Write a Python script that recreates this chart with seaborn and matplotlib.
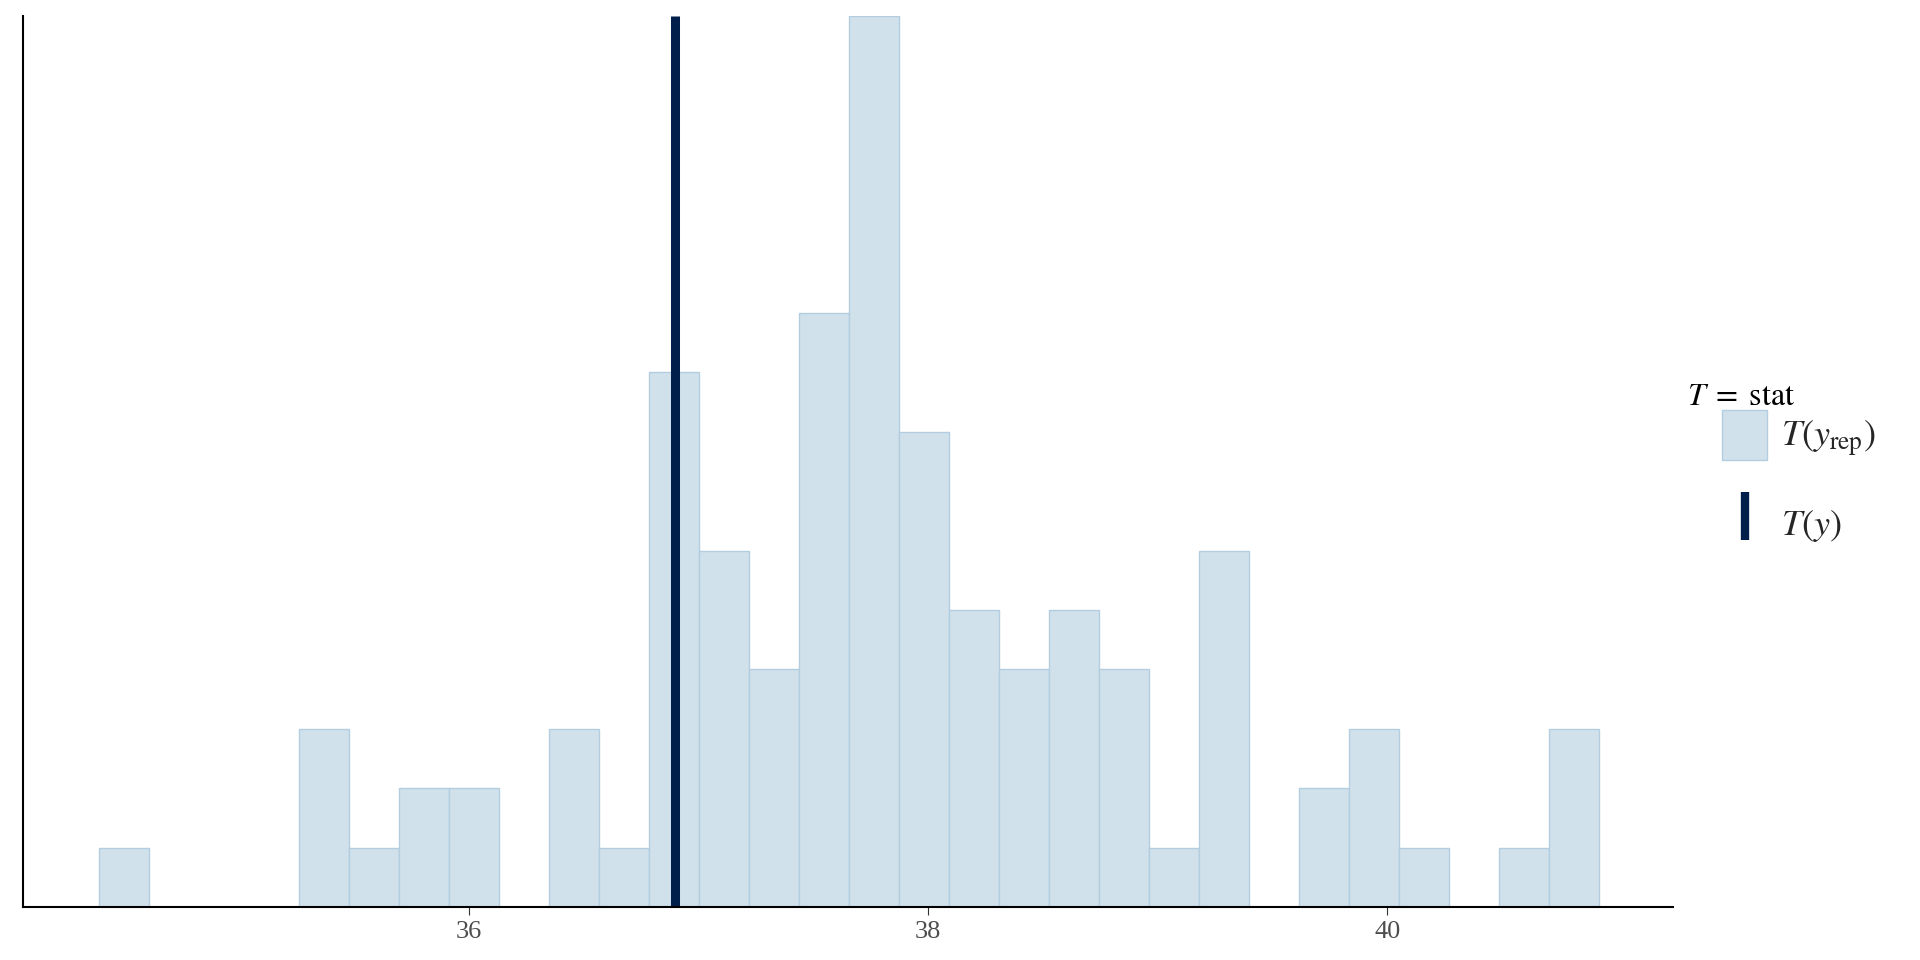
import numpy as np
import pandas as pd
import matplotlib
matplotlib.use("Agg")
import matplotlib.pyplot as plt
import seaborn as sns
from matplotlib.patches import Patch
from matplotlib.lines import Line2D

# ---- data ----
bin_low = 34.39
bin_high = 40.92
n_bins = 30
rep_counts = [1, 0, 0, 0, 3, 1, 2, 2, 0, 3,
              1, 9, 6, 4, 10, 15, 8, 5, 4, 5,
              4, 1, 6, 0, 2, 3, 1, 0, 1, 3]
t_y = 36.90
x_ticks = [36, 38, 40]
x_tick_labels = ["36", "38", "40"]
legend_title = r"$T\;=\;\mathrm{stat}$"
legend_labels = [r"$T\left(y_{\mathrm{rep}}\right)$", r"$T\left(y\right)$"]

fill_col = "#d1e1ec"
edge_col = "#b3cde0"
line_col = "#011f4b"

sns.set_theme(style="white")
plt.rcParams["font.family"] = ["Liberation Serif", "DejaVu Serif"]
plt.rcParams["mathtext.fontset"] = "stix"

bw = (bin_high - bin_low) / n_bins
centers = bin_low + bw * (np.arange(n_bins) + 0.5)
df = pd.DataFrame({"stat": centers, "count": rep_counts})

fig = plt.figure(figsize=(19.2, 9.6), dpi=100)
ax = fig.add_axes([23 / 1920, 1 - 907 / 960, (1673 - 23) / 1920, (907 - 16) / 960])

sns.histplot(data=df, x="stat", weights="count", binwidth=bw,
             binrange=(bin_low, bin_high), ax=ax,
             color=fill_col, edgecolor=edge_col, linewidth=1.0, alpha=1.0)
ax.axvline(t_y, color=line_col, lw=6.5, solid_capstyle="butt")

ax.set_xlim(34.06, 41.244)
ax.set_ylim(0, 15)
ax.set_xticks(x_ticks)
ax.set_xticklabels(x_tick_labels)
ax.set_yticks([])
ax.set_xlabel("")
ax.set_ylabel("")
for s in ["top", "right"]:
    ax.spines[s].set_visible(False)
for s in ["left", "bottom"]:
    ax.spines[s].set_color("black")
    ax.spines[s].set_linewidth(1.5)
ax.tick_params(axis="x", bottom=True, length=6, width=0.8, color="#333333",
               labelsize=19, labelcolor="#4d4d4d", pad=4)

handles = [
    Patch(facecolor=fill_col, edgecolor=edge_col, linewidth=1.0),
    Line2D([], [], marker="|", linestyle="none", markersize=34,
           markeredgewidth=6.0, color=line_col),
]
fs = 26
fs_px = fs * 100 / 72
leg = fig.legend(handles, legend_labels,
                 loc="upper left", bbox_to_anchor=(1722 / 1920, 1 - 410 / 960),
                 frameon=False, fontsize=fs,
                 handlelength=45 / fs_px, handleheight=1.754,
                 handletextpad=0.4, labelspacing=1.05, borderaxespad=0,
                 borderpad=0)
fig.text(1687 / 1920, 1 - 405 / 960, legend_title, fontsize=23,
         ha="left", va="baseline", color="black")

fig.savefig("out.png", dpi=100)
